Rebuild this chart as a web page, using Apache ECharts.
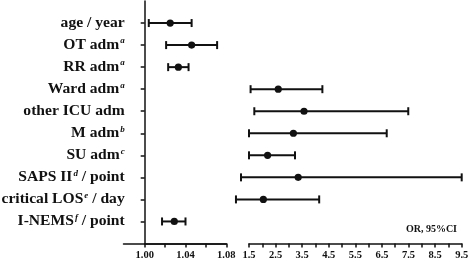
<!DOCTYPE html>
<html>
<head>
<meta charset="utf-8">
<script src="https://cdn.jsdelivr.net/npm/echarts@6/dist/echarts.min.js"></script>
<style>
  html, body { margin: 0; padding: 0; background: #fff; }
  #chart { width: 474px; height: 262px; }
</style>
</head>
<body>
<div id="chart"></div>
<script>
// 行标签（{s|x} 为上标）
const categories = ['age / year', 'OT adm{s|a}', 'RR adm{s|a}', 'Ward adm{s|a}', 'other ICU adm',
    'M adm{s|b}', 'SU adm{s|c}', 'SAPS II{s|d} / point', 'critical LOS{s|e} / day', 'I-NEMS{s|f} / point'];
// OR 及 95%CI
const orValues = [1.025, 1.046, 1.033, 2.60, 3.57, 3.17, 2.20, 3.35, 2.04, 1.029];
const ciLow    = [1.004, 1.021, 1.023, 1.56, 1.70, 1.50, 1.50, 1.20, 1.01, 1.017];
const ciHigh   = [1.046, 1.071, 1.043, 4.26, 7.49, 6.68, 3.23, 9.50, 4.14, 1.040];
// x轴刻度
const leftTicks = { min: 1.00, max: 1.08, step: 0.02 };
const rightTicks = { min: 1.5, max: 9.5, step: 0.5 };

const FONT = 'Liberation Serif';
const INK = '#111';

// 上下留一个空类目，让y轴线顶到上下边
const yCats = [' '].concat(categories, ['  ']);

const leftData = [], rightData = [];
categories.forEach(function (c, i) {
    const row = [c, orValues[i], ciLow[i], ciHigh[i]];
    (orValues[i] < 1.2 ? leftData : rightData).push(row);
});

// 误差线 + 圆点
function renderItem(params, api) {
    const y = api.value(0);
    const p = api.coord([api.value(1), y]);
    const l = api.coord([api.value(2), y]);
    const h = api.coord([api.value(3), y]);
    const st = { stroke: INK, lineWidth: 2 };
    return {
        type: 'group',
        children: [
            { type: 'line', shape: { x1: l[0], y1: l[1], x2: h[0], y2: h[1] }, style: st },
            { type: 'line', shape: { x1: l[0], y1: l[1] - 4, x2: l[0], y2: l[1] + 4 }, style: st },
            { type: 'line', shape: { x1: h[0], y1: h[1] - 4, x2: h[0], y2: h[1] + 4 }, style: st },
            { type: 'circle', shape: { cx: p[0], cy: p[1], r: 3.6 }, style: { fill: INK } }
        ]
    };
}

const axisLabelFont = { color: INK, fontFamily: FONT, fontWeight: 'bold', fontSize: 10.5 };

function hiddenY(gridIndex) {
    return { type: 'category', gridIndex: gridIndex, data: yCats, inverse: true, boundaryGap: false, show: false };
}

function makeGrid(left, width) {
    // v6 默认会把标签挤进容器，这里关掉
    return { left: left, width: width, top: 1, bottom: 18.5, outerBoundsMode: 'none', containLabel: false };
}

let myChart = echarts.init(document.getElementById('chart'));
let option = {
    animation: false,
    title: {
        text: 'OR, 95%CI',
        right: 12,
        top: 219,
        textStyle: { color: INK, fontFamily: FONT, fontWeight: 'bold', fontSize: 10 }
    },
    grid: [
        makeGrid(144.7, 81.6),   // 左半 数据
        makeGrid(235.7, 226),    // 右半 数据
        makeGrid(123.5, 102.8),  // 左半 x轴线向左延伸
        makeGrid(249, 212.7)     // 右半 显示用x轴
    ],
    xAxis: [
        {
            type: 'value', gridIndex: 0,
            min: leftTicks.min, max: leftTicks.max, interval: leftTicks.step,
            splitLine: { show: false },
            axisLine: { show: true, lineStyle: { color: INK, width: 1.5 } },
            axisTick: { show: true, length: 4, lineStyle: { color: INK, width: 1.5 } },
            axisLabel: Object.assign({
                margin: 6,
                showMinLabel: true, showMaxLabel: true,
                formatter: function (v) { return Math.round(v * 100) % 4 === 0 ? v.toFixed(2) : ''; }
            }, axisLabelFont)
        },
        {
            type: 'value', gridIndex: 1, min: 1.0, max: 9.5, show: false
        },
        {
            type: 'value', gridIndex: 2, min: 0.98, max: 1.08,
            splitLine: { show: false }, axisTick: { show: false }, axisLabel: { show: false },
            axisLine: { show: true, lineStyle: { color: INK, width: 1.5 } }
        },
        {
            type: 'value', gridIndex: 3,
            min: rightTicks.min, max: rightTicks.max, interval: rightTicks.step,
            splitLine: { show: false },
            axisLine: { show: true, lineStyle: { color: INK, width: 1.5 } },
            axisTick: { show: true, length: 4, lineStyle: { color: INK, width: 1.5 } },
            axisLabel: Object.assign({
                margin: 6,
                showMinLabel: true, showMaxLabel: true,
                formatter: function (v) { return Math.round(v * 10) % 10 === 5 ? v.toFixed(1) : ''; }
            }, axisLabelFont)
        }
    ],
    yAxis: [
        {
            type: 'category', gridIndex: 0, data: yCats, inverse: true, boundaryGap: false,
            axisLine: { show: true, lineStyle: { color: INK, width: 1.5 } },
            axisTick: {
                show: true, length: 4, lineStyle: { color: INK, width: 1.5 },
                interval: function (index) { return index > 0 && index < yCats.length - 1; }
            },
            axisLabel: {
                interval: 0,
                margin: 20,
                color: INK, fontFamily: FONT, fontWeight: 'bold', fontSize: 15.6, lineHeight: 17,
                rich: {
                    s: { fontFamily: FONT, fontStyle: 'italic', fontWeight: 'bold', fontSize: 9,
                         lineHeight: 17, verticalAlign: 'top', padding: [0, 0, 0, 1] }
                }
            }
        },
        hiddenY(1),
        hiddenY(2),
        { type: 'value', gridIndex: 3, show: false }
    ],
    series: [
        {
            name: 'left', type: 'custom', xAxisIndex: 0, yAxisIndex: 0,
            renderItem: renderItem, encode: { x: [1, 2, 3], y: 0 }, data: leftData, clip: false
        },
        {
            name: 'right', type: 'custom', xAxisIndex: 1, yAxisIndex: 1,
            renderItem: renderItem, encode: { x: [1, 2, 3], y: 0 }, data: rightData, clip: false
        }
    ]
};
myChart.setOption(option);
</script>
</body>
</html>
